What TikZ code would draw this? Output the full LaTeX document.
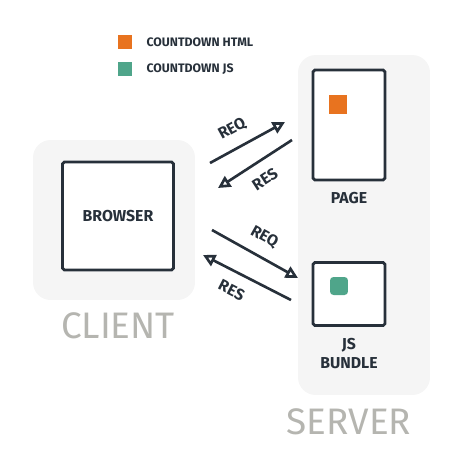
\documentclass[tikz,border=0pt]{standalone}
\usepackage{fontspec}
\setsansfont{Fira Sans}
\usepackage{xcolor}
\usetikzlibrary{positioning,arrows.meta}
\definecolor{ink}{HTML}{27303A}
\definecolor{zone}{HTML}{F5F5F5}
\definecolor{zonetext}{HTML}{B5B5B0}
\definecolor{htmlcol}{HTML}{E8731F}
\definecolor{jscol}{HTML}{4FA58A}

\begin{document}
\begin{tikzpicture}[x=0.02cm, y=-0.02cm, >={Triangle[open, length=7pt, width=7pt]},
    node distance=0.12cm,
    box/.style={draw=ink, line width=1.6pt, rounded corners=1pt, fill=white},
    swatch/.style={fill=#1, minimum size=0.28cm, inner sep=0pt},
    zonebg/.style={fill=zone, rounded corners=10pt, inner sep=0pt},
    hand/.style={font=\sffamily\bfseries\small, text=ink},
    zonelabel/.style={font=\sffamily\fontsize{21}{24}\selectfont, text=zonetext},
    flow/.style={->, draw=ink, line width=1.5pt}]
            \useasboundingbox (0,0) rectangle (474,468);
            % Zonen
            \node[zonebg, minimum width=3.24cm, minimum height=3.2cm] (clientzone) at (114,220) {};
            \node[zonebg, minimum width=2.64cm, minimum height=6.8cm] (serverzone) at (364,225) {};
            % Legende
            \node[swatch=htmlcol] (keyhtml) at (125,42) {};
            \node[swatch=jscol, below=0.24cm of keyhtml] (keyjs) {};
            \node[hand, font=\sffamily\bfseries\scriptsize, right=0.16cm of keyhtml] {COUNTDOWN HTML};
            \node[hand, font=\sffamily\bfseries\scriptsize, right=0.16cm of keyjs] {COUNTDOWN JS};
            % Client
            \node[box, minimum width=2.22cm, minimum height=2.16cm, hand] (browser) at (118,216) {BROWSER};
            \node[zonelabel, below=0.7cm of browser] (client) {CLIENT};
            % Server
            \node[box, minimum width=1.44cm, minimum height=2.2cm] (page) at (349,125) {};
            \node[swatch=htmlcol, minimum size=0.38cm] (pagehtml) at (338,104) {};
            \node[hand, below=0.1cm of page] (pagetext) {PAGE};
            \node[box, minimum width=1.44cm, minimum height=1.26cm] (bundle) at (349,294) {};
            \node[swatch=jscol, minimum size=0.36cm, rounded corners=2pt] (bundlejs) at (339,286) {};
            \node[hand, align=center, below=0.1cm of bundle] (bundletext) {JS\\BUNDLE};
            \node[zonelabel, below=0.55cm of bundletext] (server) {SERVER};
            % Pfeile Seite
            \coordinate (pq1) at (210,163);
            \coordinate (pq2) at (285,122);
            \coordinate (ps1) at (292,140);
            \coordinate (ps2) at (218,188);
            \draw[flow] (pq1) -- (pq2) node[pos=0.42, above=3pt, sloped, hand] {REQ};
            \draw[flow] (ps1) -- (ps2) node[pos=0.5, below=3pt, sloped, hand] {RES};
            % Pfeile Bundle
            \coordinate (bq1) at (212,230);
            \coordinate (bq2) at (298,278);
            \coordinate (bs1) at (291,300);
            \coordinate (bs2) at (203,255);
            \draw[flow] (bq1) -- (bq2) node[pos=0.5, above=3pt, sloped, hand] {REQ};
            \draw[flow] (bs1) -- (bs2) node[pos=0.58, below=3pt, sloped, hand] {RES};
        \end{tikzpicture}
\end{document}
